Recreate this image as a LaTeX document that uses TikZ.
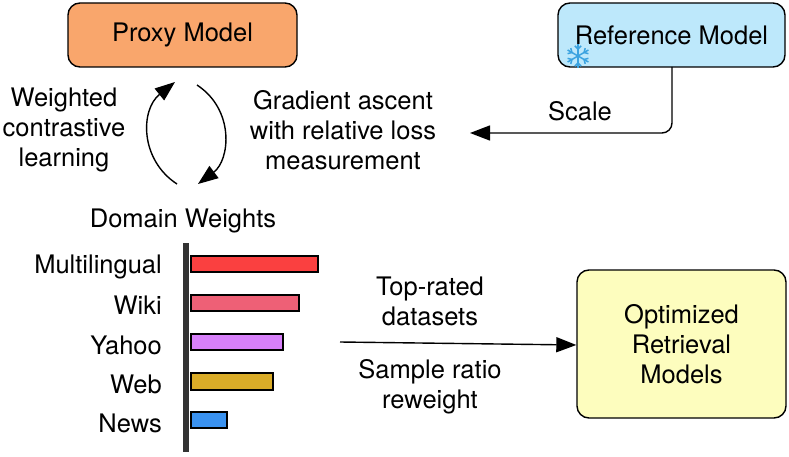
\documentclass[tikz,border=0pt]{standalone}
\usepackage{fontspec}
\setmainfont{TeX Gyre Heros}
\usetikzlibrary{arrows.meta}
\begin{document}
\begin{tikzpicture}[x=1pt,y=-1pt,
  box/.style={draw=black,line width=1.4pt,rounded corners=12pt},
  txt/.style={font=\fontsize{25.5}{30}\selectfont,align=center,inner sep=0},
  bar/.style={draw=black,line width=1.3pt},
  arr/.style={line width=1.4pt,-{Triangle[length=20pt,width=15pt]}}]
\useasboundingbox (0,0) rectangle (789,457);
\definecolor{orng}{HTML}{F9A66C}
\definecolor{lblue}{HTML}{BDE8FB}
\definecolor{lyel}{HTML}{FDFDBE}
\definecolor{snow}{HTML}{3BA3E0}
\node[box,fill=orng,minimum width=229pt,minimum height=64pt] (proxy) at (182.5,35) {};
\node[txt] at (proxy) {Proxy Model};
\node[box,fill=lblue,minimum width=227pt,minimum height=64pt] (ref) at (671.5,35) {};
\node[txt] at (ref) {Reference Model};
\begin{scope}[shift={(578,56)},line width=1.5pt]
\foreach \a in {30,90,150} \draw[snow] (\a:12) -- (\a+180:12);
\foreach \a in {30,90,...,330} {\draw[snow] (\a:7) -- ++(\a+45:4.5); \draw[snow] (\a:7) -- ++(\a-45:4.5);}
\end{scope}
\node[box,fill=lyel,minimum width=209pt,minimum height=148pt] (opt) at (681.5,344) {};
\node[txt] at (opt) {Optimized\\Retrieval\\Models};
\node[txt] (wcl) at (64,130) {Weighted\\contrastive\\learning};
\node[txt] (ga) at (343,130) {Gradient ascent\\with relative loss\\measurement};
\coordinate (a1) at (177,184); \coordinate (a2) at (175,82);
\coordinate (b1) at (197,85); \coordinate (b2) at (198,184);
\draw[arr] (a1) .. controls (140,160) and (140,110) .. (a2);
\draw[arr] (b1) .. controls (235,110) and (230,160) .. (b2);
\coordinate (s1) at (672,67);
\coordinate (s2) at (470,133);
\draw[arr,rounded corners=10pt] (s1) |- (s2);
\node[txt] (scale) at (580,111) {Scale};
\node[txt] (dw) at (183,221) {Domain Weights};
\fill[black!80] (183,243) rectangle (189,452);
\draw[bar,fill={rgb,255:red,250;green,64;blue,64}] (191,256) rectangle (318,272);
\draw[bar,fill={rgb,255:red,238;green,96;blue,118}] (191,295) rectangle (299,311);
\draw[bar,fill={rgb,255:red,215;green,128;blue,250}] (191,334) rectangle (283,350);
\draw[bar,fill={rgb,255:red,218;green,172;blue,40}] (191,373) rectangle (273,390);
\draw[bar,fill={rgb,255:red,58;green,146;blue,240}] (191,412) rectangle (227,428);
\node[txt,anchor=east] at (162,267) {Multilingual};
\node[txt,anchor=east] at (162,305) {Wiki};
\node[txt,anchor=east] at (162,345) {Yahoo};
\node[txt,anchor=east] at (162,384) {Web};
\node[txt,anchor=east] at (162,423) {News};
\coordinate (c1) at (340,342);
\draw[arr] (c1) -- (opt.west|-0,345);
\node[txt] at (430,301) {Top-rated\\datasets};
\node[txt] at (430,387) {Sample ratio\\reweight};
\end{tikzpicture}
\end{document}
